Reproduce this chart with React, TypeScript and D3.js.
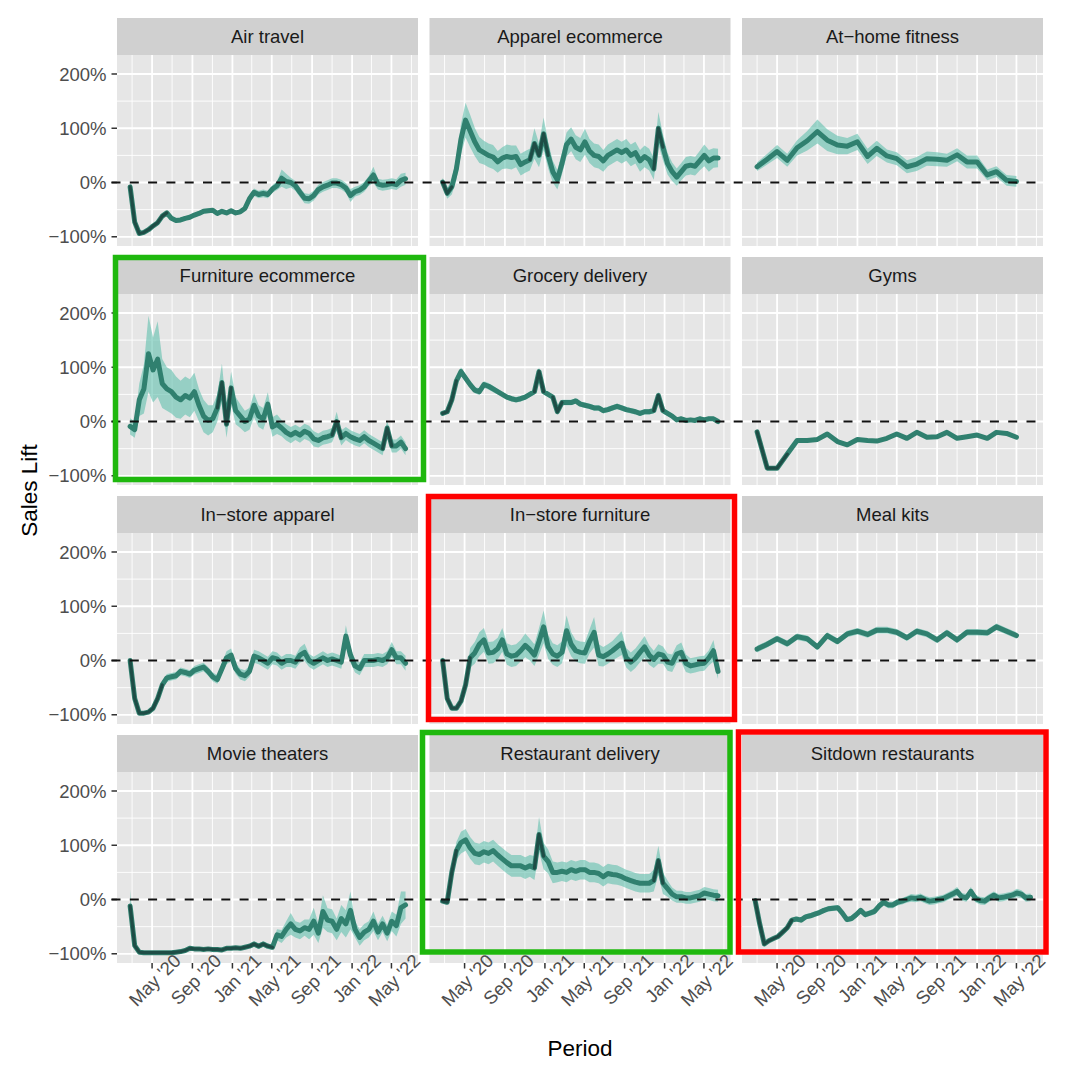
import { useEffect, useRef } from "react"
import * as d3 from "d3"

// sample dates: biweekly series start Feb 24 2020, monthly series start Mar 2020
const weekStart = new Date(2020, 1, 24)
const weekDates = d3.range(61).map(i => d3.timeDay.offset(weekStart, 14 * i))
const monthDates = d3.range(27).map(i => new Date(2020, 2 + i, 1))

// sales lift (%) and half-width of the interval band (%)
const airTravel = [-8, -73, -94, -92, -87, -80, -74, -62, -56, -66, -70, -69, -66, -64, -60, -57, -53, -52, -51, -57, -53, -56, -52, -56, -54, -48, -30, -18, -22, -20, -22, -12, -6, 8, 2, 0, -6, -18, -29, -30, -24, -13, -8, -5, -1, -1, -4, -10, -24, -17, -14, -8, 3, 14, -3, -5, -4, -2, -4, 4, 7]
const airTravelBand = [3, 3, 3, 3, 3, 3, 3, 3, 4, 4, 4, 4, 4, 4, 4, 4, 4, 4, 4, 4, 4, 4, 4, 4, 4, 4, 7, 7, 7, 7, 7, 7, 8, 16, 14, 9, 9, 9, 9, 9, 9, 9, 9, 9, 9, 9, 9, 9, 12, 9, 9, 9, 9, 15, 10, 10, 10, 10, 10, 12, 11]

const apparelEcom = [1, -20, -8, 25, 80, 115, 95, 75, 60, 55, 50, 47, 38, 45, 48, 46, 48, 33, 38, 42, 72, 50, 90, 50, 20, 5, 35, 70, 80, 65, 60, 75, 58, 50, 48, 40, 50, 55, 60, 55, 60, 50, 55, 40, 48, 42, 25, 100, 65, 35, 20, 10, 20, 30, 32, 30, 40, 50, 40, 45, 45]
const apparelEcomBand = [8, 10, 14, 20, 28, 32, 30, 26, 24, 22, 22, 22, 20, 20, 22, 22, 20, 20, 20, 20, 28, 22, 30, 24, 20, 18, 20, 22, 22, 22, 22, 24, 22, 22, 22, 20, 20, 20, 20, 20, 20, 20, 20, 20, 20, 20, 20, 30, 24, 20, 17, 16, 16, 17, 17, 17, 18, 20, 20, 18, 17]

const atHomeFitness = [29, 43, 57, 41, 64, 77, 94, 78, 69, 67, 75, 48, 63, 49, 44, 29, 34, 44, 43, 41, 51, 38, 38, 14, 20, 4, 2]
const atHomeFitnessBand = [8, 10, 12, 12, 14, 18, 22, 20, 17, 15, 15, 14, 14, 12, 12, 12, 13, 13, 13, 12, 12, 12, 12, 10, 10, 10, 10]

const furnitureEcom = [-9, -15, 40, 60, 125, 95, 115, 70, 60, 55, 45, 40, 48, 43, 55, 30, 10, 2, 5, 25, 72, -5, 62, 20, 10, 0, 5, 30, 10, 5, 32, -10, -5, -12, -20, -25, -20, -25, -18, -22, -32, -35, -30, -28, -25, 0, -30, -22, -28, -32, -35, -28, -35, -40, -45, -50, -12, -45, -45, -38, -50]
const furnitureEcomBand = [15, 15, 30, 45, 70, 60, 70, 45, 40, 40, 38, 35, 35, 35, 35, 30, 30, 28, 25, 25, 35, 25, 30, 25, 22, 20, 20, 22, 20, 20, 22, 18, 18, 15, 15, 15, 14, 14, 14, 14, 14, 13, 13, 13, 13, 18, 14, 12, 12, 12, 12, 12, 12, 12, 12, 12, 15, 12, 12, 12, 12]

const groceryDelivery = [15, 18, 40, 75, 92, 80, 68, 58, 55, 68, 65, 60, 55, 50, 45, 42, 40, 42, 45, 50, 55, 92, 55, 50, 45, 18, 35, 35, 35, 38, 32, 30, 28, 25, 25, 20, 22, 25, 28, 25, 22, 20, 18, 15, 18, 18, 20, 48, 20, 15, 10, 3, 5, 2, 3, 2, 5, 3, 5, 5, 0]
const groceryDeliveryBand = [4, 4, 5, 6, 8, 7, 6, 6, 6, 6, 6, 6, 5, 5, 5, 5, 5, 5, 5, 5, 5, 8, 5, 5, 5, 5, 5, 5, 5, 5, 5, 5, 5, 5, 5, 5, 5, 5, 5, 5, 5, 5, 5, 5, 5, 5, 5, 7, 5, 5, 4, 4, 4, 4, 4, 4, 4, 4, 4, 4, 4]

const gyms = [-19, -86, -86, -60, -35, -35, -33, -23, -37, -43, -33, -35, -36, -31, -23, -31, -20, -29, -28, -20, -31, -28, -25, -31, -20, -22, -29]
const gymsBand = [3, 3, 3, 3, 3, 3, 3, 3, 3, 3, 3, 3, 3, 3, 3, 3, 3, 3, 3, 3, 3, 3, 3, 3, 3, 3, 3]

const instoreApparel = [0, -70, -97, -97, -95, -88, -70, -45, -32, -30, -28, -20, -22, -25, -18, -15, -12, -20, -30, -35, -15, 5, 10, -15, -25, -28, -20, 8, 5, 0, -5, 5, 3, -5, 0, 0, -3, 10, 15, 0, -5, 0, 5, 0, 3, 0, -3, 45, 10, -10, -15, 0, 0, 0, 2, 0, 5, 20, 5, 5, -5]
const instoreApparelBand = [4, 3, 3, 3, 3, 4, 5, 6, 7, 7, 7, 7, 7, 7, 8, 8, 8, 8, 8, 8, 10, 12, 12, 10, 10, 10, 10, 12, 12, 12, 12, 12, 12, 12, 12, 12, 12, 14, 16, 12, 12, 12, 12, 12, 12, 12, 12, 20, 14, 12, 12, 12, 12, 12, 12, 12, 12, 14, 12, 12, 14]

const instoreFurniture = [0, -70, -88, -88, -75, -45, 5, 14, 30, 38, 14, 15, 22, 38, 12, 8, 10, 18, 28, 20, 10, 35, 62, 25, 12, 8, 15, 55, 30, 18, 15, 14, 35, 52, 10, 7, 12, 18, 25, 32, 5, -3, 4, 15, 25, 10, 2, 12, 10, -3, -5, 12, 15, -5, -10, -8, -6, -5, 5, 18, -20]
const instoreFurnitureBand = [8, 5, 4, 4, 6, 10, 18, 20, 22, 22, 20, 20, 20, 22, 20, 20, 20, 20, 22, 20, 20, 25, 30, 22, 20, 20, 20, 28, 22, 20, 20, 20, 22, 28, 20, 18, 18, 18, 20, 22, 18, 18, 18, 18, 20, 18, 16, 18, 16, 16, 16, 16, 18, 16, 14, 14, 14, 14, 14, 20, 14]

const mealKits = [21, 30, 40, 31, 44, 40, 25, 46, 35, 49, 54, 48, 56, 56, 52, 42, 54, 49, 38, 51, 38, 52, 52, 51, 62, 54, 46]
const mealKitsBand = [6, 6, 6, 6, 6, 6, 6, 6, 6, 6, 6, 6, 6, 6, 6, 6, 6, 6, 6, 6, 6, 6, 6, 6, 6, 6, 6]

const movieTheaters = [-12, -85, -97, -98, -98, -98, -98, -98, -98, -98, -97, -96, -94, -90, -91, -91, -92, -91, -92, -92, -93, -90, -90, -89, -90, -88, -86, -82, -86, -82, -86, -88, -65, -68, -55, -45, -55, -58, -52, -55, -40, -62, -22, -38, -40, -55, -35, -45, -20, -55, -70, -60, -55, -40, -60, -45, -62, -40, -48, -15, -10]
const movieTheatersBand = [30, 3, 2, 2, 2, 2, 2, 2, 2, 2, 2, 2, 2, 3, 3, 3, 3, 3, 3, 3, 3, 3, 3, 3, 3, 3, 4, 5, 5, 5, 5, 5, 10, 12, 15, 20, 15, 15, 15, 18, 25, 18, 30, 22, 22, 20, 25, 25, 35, 15, 15, 15, 15, 18, 15, 15, 15, 18, 20, 30, 25]

const restaurantDelivery = [-3, -5, 50, 90, 105, 110, 95, 85, 83, 88, 85, 90, 82, 75, 68, 62, 62, 62, 58, 62, 58, 120, 80, 70, 50, 50, 52, 50, 55, 52, 55, 55, 50, 50, 48, 42, 48, 46, 45, 42, 38, 35, 32, 30, 30, 30, 35, 72, 30, 20, 10, 5, 5, 3, 3, 5, 7, 12, 10, 8, 7]
const restaurantDeliveryBand = [5, 5, 12, 16, 20, 20, 20, 20, 20, 20, 20, 20, 20, 20, 20, 20, 20, 20, 20, 20, 22, 32, 24, 22, 20, 18, 18, 18, 18, 18, 18, 18, 18, 18, 18, 18, 18, 18, 18, 17, 17, 17, 17, 17, 17, 17, 20, 27, 20, 15, 12, 11, 11, 11, 11, 11, 11, 11, 11, 11, 11]

const sitdownRestaurants = [-2, -45, -82, -76, -72, -68, -60, -52, -38, -36, -38, -32, -30, -27, -24, -20, -17, -16, -15, -25, -37, -35, -28, -20, -28, -25, -22, -12, -5, -10, -10, -5, -3, 0, 3, 2, 4, 0, -3, -2, 0, 2, 6, 10, 15, 5, 3, 15, 2, -2, -3, 3, 8, 3, 4, 6, 8, 12, 10, 3, 4]
const sitdownRestaurantsBand = [3, 3, 3, 3, 3, 3, 4, 4, 4, 4, 4, 5, 5, 5, 5, 5, 5, 5, 5, 5, 5, 5, 5, 5, 5, 5, 6, 6, 6, 6, 6, 6, 6, 6, 7, 7, 7, 7, 7, 7, 7, 7, 7, 7, 8, 7, 7, 8, 7, 7, 7, 7, 7, 7, 7, 7, 7, 8, 7, 7, 7]

interface Panel {
  name: string
  dates: Date[]
  values: number[]
  band: number[]
  dark: [number, number][]
}

const panels: Panel[] = [
  { name: "Air travel", dates: weekDates, values: airTravel, band: airTravelBand, dark: [[0, 8]] },
  { name: "Apparel ecommerce", dates: weekDates, values: apparelEcom, band: apparelEcomBand, dark: [[0, 2], [19, 23], [46, 48]] },
  { name: "At\u2212home fitness", dates: monthDates, values: atHomeFitness, band: atHomeFitnessBand, dark: [] },
  { name: "Furniture ecommerce", dates: weekDates, values: furnitureEcom, band: furnitureEcomBand, dark: [[19, 22], [44, 46], [55, 57]] },
  { name: "Grocery delivery", dates: weekDates, values: groceryDelivery, band: groceryDeliveryBand, dark: [[0, 3], [20, 22], [24, 26], [46, 48]] },
  { name: "Gyms", dates: monthDates, values: gyms, band: gymsBand, dark: [[0, 3]] },
  { name: "In\u2212store apparel", dates: weekDates, values: instoreApparel, band: instoreApparelBand, dark: [[0, 7]] },
  { name: "In\u2212store furniture", dates: weekDates, values: instoreFurniture, band: instoreFurnitureBand, dark: [[0, 6]] },
  { name: "Meal kits", dates: monthDates, values: mealKits, band: mealKitsBand, dark: [] },
  { name: "Movie theaters", dates: weekDates, values: movieTheaters, band: movieTheatersBand, dark: [[0, 31]] },
  { name: "Restaurant delivery", dates: weekDates, values: restaurantDelivery, band: restaurantDeliveryBand, dark: [[0, 3], [20, 22], [46, 48]] },
  { name: "Sitdown restaurants", dates: weekDates, values: sitdownRestaurants, band: sitdownRestaurantsBand, dark: [[0, 8]] },
]

const xMajor = [new Date(2020, 4, 1), new Date(2020, 8, 1), new Date(2021, 0, 1), new Date(2021, 4, 1), new Date(2021, 8, 1), new Date(2022, 0, 1), new Date(2022, 4, 1)]
const xMinor = [new Date(2020, 2, 1), new Date(2020, 6, 1), new Date(2020, 10, 1), new Date(2021, 2, 1), new Date(2021, 6, 1), new Date(2021, 10, 1), new Date(2022, 2, 1), new Date(2022, 6, 1)]
const yMajor = [-100, 0, 100, 200]
const yMinor = [-50, 50, 150]

const highlights = [
  { name: "Furniture ecommerce", color: "#1FB80E" },
  { name: "In\u2212store furniture", color: "#FF0000" },
  { name: "Restaurant delivery", color: "#1FB80E" },
  { name: "Sitdown restaurants", color: "#FF0000" },
]

// hand-drawn box offsets [left, right, top, bottom] relative to strip/panel edges
const boxOffsets: Record<string, number[]> = {
  "Furniture ecommerce": [-1.5, 5.5, 0.5, -5.5],
  "In\u2212store furniture": [-1, 4, 0.5, -4.5],
  "Restaurant delivery": [-7, -0.5, -2.5, -11],
  "Sitdown restaurants": [-3.5, 3, -3, -11],
}

export default function App() {
  const svgRef = useRef<SVGSVGElement>(null)

  useEffect(() => {
    if (!svgRef.current) return
    const svg = d3.select(svgRef.current)
    svg.selectAll("*").remove()

    const width = 1080
    const height = 1080
    const font = "'Liberation Sans', Arial, Helvetica, sans-serif"
    svg.attr("width", width).attr("height", height)
    svg.append("rect").attr("width", width).attr("height", height).attr("fill", "#FFFFFF")

    const left0 = 117
    const colPitch = 312.5
    const panelW = 301
    const top0 = 18
    const rowPitch = 239
    const stripH = 37
    const panelH = 191

    const x = d3.scaleTime()
      .domain([new Date(2020, 0, 15), new Date(2022, 6, 21)])
      .range([0, panelW])
    const y = d3.scaleLinear().domain([-117, 235]).range([panelH, 0])
    const fmtTick = d3.timeFormat("%b '%y")

    panels.forEach((p, i) => {
      const col = i % 3
      const row = Math.floor(i / 3)
      const px = left0 + col * colPitch
      const sy = top0 + row * rowPitch
      const py = sy + stripH

      // strip
      svg.append("rect")
        .attr("x", px).attr("y", sy)
        .attr("width", panelW).attr("height", stripH)
        .attr("fill", "#D0D0D0")
      svg.append("text")
        .attr("x", px + panelW / 2).attr("y", sy + stripH / 2 + 6.8)
        .attr("text-anchor", "middle")
        .attr("font-family", font).attr("font-size", "18.5px")
        .attr("fill", "#1A1A1A")
        .text(p.name)

      const g = svg.append("g").attr("transform", `translate(${px},${py})`)
      g.append("rect").attr("width", panelW).attr("height", panelH).attr("fill", "#E6E6E6")

      // grid
      g.selectAll(".ymin").data(yMinor).enter().append("line")
        .attr("x1", 0).attr("x2", panelW)
        .attr("y1", d => y(d)).attr("y2", d => y(d))
        .attr("stroke", "#FFFFFF").attr("stroke-width", 0.9)
      g.selectAll(".xmin").data(xMinor).enter().append("line")
        .attr("x1", d => x(d)).attr("x2", d => x(d))
        .attr("y1", 0).attr("y2", panelH)
        .attr("stroke", "#FFFFFF").attr("stroke-width", 0.9)
      g.selectAll(".ymaj").data(yMajor).enter().append("line")
        .attr("x1", 0).attr("x2", panelW)
        .attr("y1", d => y(d)).attr("y2", d => y(d))
        .attr("stroke", "#FFFFFF").attr("stroke-width", 1.8)
      g.selectAll(".xmaj").data(xMajor).enter().append("line")
        .attr("x1", d => x(d)).attr("x2", d => x(d))
        .attr("y1", 0).attr("y2", panelH)
        .attr("stroke", "#FFFFFF").attr("stroke-width", 1.8)

      // ribbon
      const area = d3.area<number>()
        .x((_, k) => x(p.dates[k]))
        .y0((v, k) => y(v - p.band[k]))
        .y1((v, k) => y(v + p.band[k]))
      g.append("path").datum(p.values)
        .attr("d", area)
        .attr("fill", "#5CBDAB").attr("fill-opacity", 0.58)

      // line
      const line = d3.line<number>()
        .x((_, k) => x(p.dates[k]))
        .y(v => y(v))
      g.append("path").datum(p.values)
        .attr("d", line)
        .attr("fill", "none")
        .attr("stroke", "#30806F").attr("stroke-width", 5)
        .attr("stroke-linejoin", "round").attr("stroke-linecap", "round")

      // darker stretches
      const darkLine = d3.line<number>()
        .x(k => x(p.dates[k]))
        .y(k => y(p.values[k]))
      p.dark.forEach(([a, b]) => {
        g.append("path").datum(d3.range(a, b + 1))
          .attr("d", darkLine)
          .attr("fill", "none")
          .attr("stroke", "#1E4D46").attr("stroke-width", 3.2)
          .attr("stroke-linejoin", "round").attr("stroke-linecap", "round")
      })

      // y axis on first column
      if (col === 0) {
        yMajor.forEach(v => {
          svg.append("line")
            .attr("x1", px - 5.5).attr("x2", px)
            .attr("y1", py + y(v)).attr("y2", py + y(v))
            .attr("stroke", "#333333").attr("stroke-width", 1.5)
          svg.append("text")
            .attr("x", px - 10.5).attr("y", py + y(v) + 6.7)
            .attr("text-anchor", "end")
            .attr("font-family", font).attr("font-size", "18.5px")
            .attr("fill", "#4D4D4D")
            .text(`${v < 0 ? "\u2212" : ""}${Math.abs(v)}%`)
        })
      }

      // x axis on last row
      if (row === 3) {
        xMajor.forEach(d => {
          const tx = px + x(d)
          svg.append("line")
            .attr("x1", tx).attr("x2", tx)
            .attr("y1", py + panelH).attr("y2", py + panelH + 5.5)
            .attr("stroke", "#333333").attr("stroke-width", 1.5)
          svg.append("text")
            .attr("transform", `translate(${tx + 30},${py + panelH - 1}) rotate(-45)`)
            .attr("text-anchor", "end")
            .attr("font-family", font).attr("font-size", "18.5px")
            .attr("fill", "#4D4D4D")
            .text(fmtTick(d))
        })
      }
    })

    // dashed zero reference across each row
    d3.range(4).forEach(row => {
      const zy = top0 + row * rowPitch + stripH + y(0)
      svg.append("line")
        .attr("x1", left0 - 5.5).attr("x2", left0 + 2 * colPitch + panelW)
        .attr("y1", zy).attr("y2", zy)
        .attr("stroke", "#111111").attr("stroke-width", 2)
        .attr("stroke-dasharray", "9 9.3")
    })

    // highlight boxes
    highlights.forEach(h => {
      const i = panels.findIndex(p => p.name === h.name)
      const col = i % 3
      const row = Math.floor(i / 3)
      const px = left0 + col * colPitch
      const sy = top0 + row * rowPitch
      const [dl, dr, dt, db] = boxOffsets[h.name]
      const x0 = px + dl
      const x1 = px + panelW + dr
      const y0 = sy + dt
      const y1 = sy + stripH + panelH + db
      svg.append("rect")
        .attr("x", x0).attr("y", y0)
        .attr("width", x1 - x0).attr("height", y1 - y0)
        .attr("fill", "none")
        .attr("stroke", h.color).attr("stroke-width", 5.5)
    })

    // axis titles
    const panelsTop = top0
    const panelsBottom = top0 + 3 * rowPitch + stripH + panelH
    svg.append("text")
      .attr("transform", `translate(36.7,${(panelsTop + panelsBottom) / 2}) rotate(-90)`)
      .attr("text-anchor", "middle")
      .attr("font-family", font).attr("font-size", "22.5px")
      .attr("fill", "#000000")
      .text("Sales Lift")
    svg.append("text")
      .attr("x", left0 + (2 * colPitch + panelW) / 2).attr("y", 1056)
      .attr("text-anchor", "middle")
      .attr("font-family", font).attr("font-size", "22.5px")
      .attr("fill", "#000000")
      .text("Period")
  }, [])

  return <svg ref={svgRef} style={{ position: "absolute", left: 0, top: 0, display: "block" }} />
}
